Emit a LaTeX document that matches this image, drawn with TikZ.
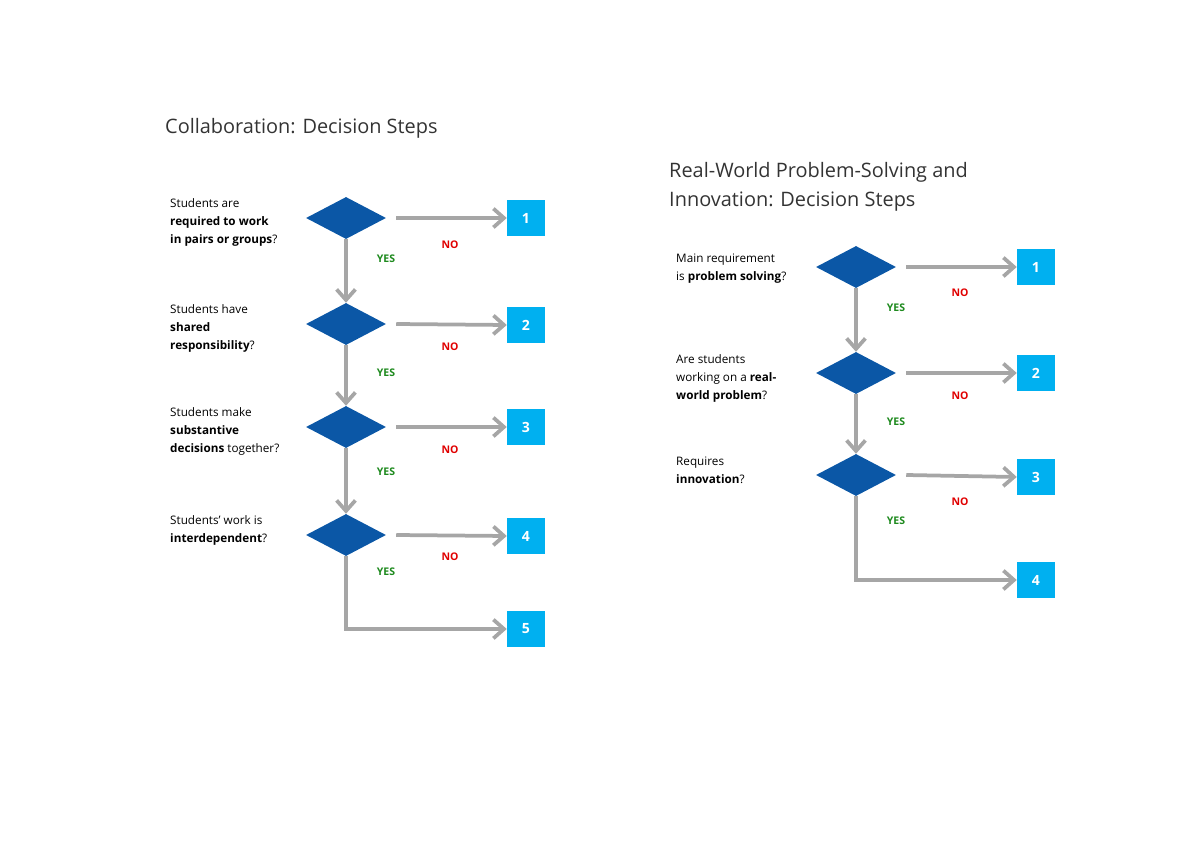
\documentclass[tikz,border=0pt]{standalone}
\usepackage{fontspec}
\setmainfont{Open Sans}
\usetikzlibrary{shapes.geometric,arrows.meta}
\definecolor{decblue}{HTML}{0B57A6}
\definecolor{boxcyan}{HTML}{00B0F0}
\definecolor{flowgrey}{HTML}{A6A6A6}
\definecolor{yesgreen}{HTML}{1E8A1E}
\definecolor{nored}{HTML}{E00000}
\tikzset{
  decision/.style={diamond, fill=decblue, minimum width=2.4cm, minimum height=1.26cm, inner sep=0pt, aspect=1.9},
  outcome/.style={fill=boxcyan, text=white, font=\bfseries\large, minimum width=1.14cm, minimum height=1.08cm, inner sep=0pt},
  flow/.style={draw=flowgrey, line width=3.2pt, -{Straight Barb[length=9pt,width=16pt]}},
  question/.style={anchor=north west, inner sep=0pt, align=left, font=\fontsize{10}{15.5}\selectfont},
  yes/.style={text=yesgreen, font=\bfseries\small},
  no/.style={text=nored, font=\bfseries\small},
  heading/.style={anchor=west, inner sep=0pt, font=\fontsize{17}{25}\selectfont, text=black!80, align=left}
}
\begin{document}
\begin{tikzpicture}[x=0.03cm, y=-0.03cm]
\useasboundingbox (0,0) rectangle (1200,849);
% collaboration
\node[heading] (titleA) at (165,128) {Collaboration: Decision Steps};
\node[decision] (dA1) at (346,218) {};
\node[decision] (dA2) at (346,324) {};
\node[decision] (dA3) at (346,427) {};
\node[decision] (dA4) at (346,535) {};
\node[outcome] (oA1) at (526,218) {1};
\node[outcome] (oA2) at (526,325) {2};
\node[outcome] (oA3) at (526,427) {3};
\node[outcome] (oA4) at (526,536) {4};
\node[outcome] (oA5) at (526,629) {5};
\node[question] (qA1) at (170,198) {Students are\\\textbf{required to work}\\\textbf{in pairs or groups}?};
\node[question] (qA2) at (170,304) {Students have\\\textbf{shared}\\\textbf{responsibility}?};
\node[question] (qA3) at (170,407) {Students make\\\textbf{substantive}\\\textbf{decisions} together?};
\node[question] (qA4) at (170,515) {Students' work is\\\textbf{interdependent}?};
\foreach \i/\ny/\yy in {1/245/259, 2/347/373, 3/450/472, 4/557/572} {
  \draw[flow] ([xshift=0.3cm]dA\i.east) -- (oA\i.west);
  \node[no] at (450,\ny) {NO};
  \node[yes] at (386,\yy) {YES};
}
\draw[flow] (dA1) -- (dA2);
\draw[flow] (dA2) -- (dA3);
\draw[flow] (dA3) -- (dA4);
\draw[flow] (dA4.south) |- (oA5.west);
% problem solving
\node[heading] (titleB) at (669,187) {Real-World Problem-Solving and\\Innovation: Decision Steps};
\node[decision] (dB1) at (856,267) {};
\node[decision] (dB2) at (856,373) {};
\node[decision] (dB3) at (856,475) {};
\node[outcome] (oB1) at (1036,267) {1};
\node[outcome] (oB2) at (1036,373) {2};
\node[outcome] (oB3) at (1036,477) {3};
\node[outcome] (oB4) at (1036,580) {4};
\node[question] (qB1) at (676,254) {Main requirement\\is \textbf{problem solving}?};
\node[question] (qB2) at (676,354) {Are students\\working on a \textbf{real-}\\\textbf{world problem}?};
\node[question] (qB3) at (676,457) {Requires\\\textbf{innovation}?};
\foreach \i/\ny/\yy in {1/293/308, 2/396/422, 3/502/521} {
  \draw[flow] ([xshift=0.3cm]dB\i.east) -- (oB\i.west);
  \node[no] at (960,\ny) {NO};
  \node[yes] at (896,\yy) {YES};
}
\draw[flow] (dB1) -- (dB2);
\draw[flow] (dB2) -- (dB3);
\draw[flow] (dB3.south) |- (oB4.west);
\end{tikzpicture}
\end{document}
